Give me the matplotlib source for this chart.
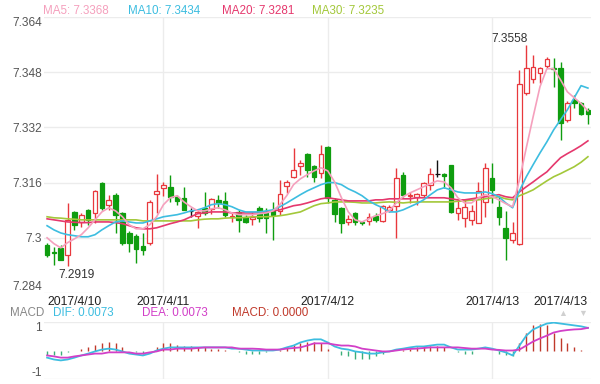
import numpy as np
import matplotlib.pyplot as plt

plt.rcParams['font.family'] = ['Liberation Sans', 'DejaVu Sans']

# x-axis labels (candle index where each label sits)
dates = ['2017/4/10', '2017/4/11', '2017/4/12', '2017/4/13', '2017/4/13']
date_pos = [0, 17, 41, 65, 79]

# hourly candles
opens = [7.2980, 7.2959, 7.2971, 7.2951, 7.3075, 7.3046, 7.3081, 7.3072, 7.3159, 7.3096,
         7.3125, 7.3072, 7.3014, 7.3006, 7.2977, 7.2986, 7.3128, 7.3145, 7.3148, 7.3119,
         7.3116, 7.3078, 7.3064, 7.3087, 7.3084, 7.3110, 7.3107, 7.3060, 7.3075, 7.3061,
         7.3055, 7.3087, 7.3072, 7.3078, 7.3078, 7.3151, 7.3177, 7.3209, 7.3244, 7.3209,
         7.3188, 7.3264, 7.3110, 7.3087, 7.3046, 7.3072, 7.3045, 7.3049, 7.3064, 7.3049,
         7.3081, 7.3093, 7.3183, 7.3122, 7.3119, 7.3125, 7.3154, 7.3186, 7.3186, 7.3212,
         7.3072, 7.3058, 7.3052, 7.3043, 7.3104, 7.3174, 7.3090, 7.3029, 7.2994, 7.2983,
         7.3420, 7.3461, 7.3478, 7.3499, 7.3493, 7.3493, 7.3342, 7.3400, 7.3391, 7.3371]
highs = [7.2986, 7.2974, 7.2980, 7.3101, 7.3078, 7.3072, 7.3084, 7.3139, 7.3162, 7.3125,
         7.3130, 7.3075, 7.3020, 7.3012, 7.3014, 7.3110, 7.3186, 7.3162, 7.3183, 7.3125,
         7.3148, 7.3087, 7.3081, 7.3133, 7.3116, 7.3125, 7.3133, 7.3075, 7.3081, 7.3067,
         7.3075, 7.3093, 7.3087, 7.3104, 7.3168, 7.3168, 7.3261, 7.3226, 7.3246, 7.3212,
         7.3270, 7.3267, 7.3116, 7.3090, 7.3067, 7.3075, 7.3046, 7.3072, 7.3072, 7.3096,
         7.3096, 7.3203, 7.3191, 7.3133, 7.3130, 7.3162, 7.3203, 7.3226, 7.3188, 7.3212,
         7.3110, 7.3110, 7.3096, 7.3162, 7.3217, 7.3217, 7.3119, 7.3078, 7.3046, 7.3487,
         7.3558, 7.3531, 7.3496, 7.3525, 7.3522, 7.3510, 7.3397, 7.3415, 7.3394, 7.3377]
lows = [7.2945, 7.2922, 7.2936, 7.2919, 7.3023, 7.3032, 7.3038, 7.3043, 7.3081, 7.3081,
        7.3014, 7.2980, 7.2959, 7.2928, 7.2951, 7.2980, 7.3072, 7.3122, 7.3104, 7.3096,
        7.3081, 7.3061, 7.3029, 7.3067, 7.3070, 7.3087, 7.3061, 7.3046, 7.3017, 7.3043,
        7.3038, 7.3046, 7.3014, 7.2994, 7.3067, 7.3130, 7.3174, 7.3183, 7.3177, 7.3162,
        7.3174, 7.3101, 7.3046, 7.3014, 7.3038, 7.3038, 7.3038, 7.3038, 7.3046, 7.3046,
        7.3075, 7.3000, 7.3119, 7.3101, 7.3096, 7.3119, 7.3139, 7.3177, 7.3145, 7.3072,
        7.3052, 7.3032, 7.3038, 7.3043, 7.3061, 7.3101, 7.3038, 7.2936, 7.2986, 7.2980,
        7.3415, 7.3449, 7.3449, 7.3493, 7.3438, 7.3284, 7.3336, 7.3377, 7.3356, 7.3330]
closes = [7.2951, 7.2957, 7.2936, 7.3052, 7.3038, 7.3067, 7.3052, 7.3136, 7.3087, 7.3110,
          7.3067, 7.2986, 7.2986, 7.2968, 7.2965, 7.3104, 7.3136, 7.3154, 7.3119, 7.3107,
          7.3081, 7.3078, 7.3075, 7.3072, 7.3113, 7.3101, 7.3067, 7.3063, 7.3052, 7.3046,
          7.3061, 7.3058, 7.3058, 7.3067, 7.3128, 7.3162, 7.3197, 7.3217, 7.3197, 7.3177,
          7.3244, 7.3116, 7.3070, 7.3043, 7.3055, 7.3046, 7.3042, 7.3061, 7.3052, 7.3093,
          7.3090, 7.3174, 7.3125, 7.3125, 7.3128, 7.3159, 7.3186, 7.3186, 7.3180, 7.3075,
          7.3087, 7.3090, 7.3078, 7.3136, 7.3203, 7.3139, 7.3061, 7.3000, 7.3014, 7.3446,
          7.3493, 7.3496, 7.3493, 7.3519, 7.3490, 7.3333, 7.3391, 7.3391, 7.3359, 7.3359]

ma5 = [7.3000, 7.2983, 7.2971, 7.2986, 7.2997, 7.3009, 7.3029, 7.3052, 7.3075, 7.3087,
       7.3078, 7.3061, 7.3038, 7.3026, 7.3026, 7.3038, 7.3061, 7.3096, 7.3116, 7.3122,
       7.3104, 7.3090, 7.3078, 7.3078, 7.3084, 7.3087, 7.3081, 7.3072, 7.3067, 7.3067,
       7.3067, 7.3070, 7.3072, 7.3078, 7.3096, 7.3122, 7.3154, 7.3171, 7.3183, 7.3194,
       7.3203, 7.3194, 7.3162, 7.3116, 7.3075, 7.3052, 7.3046, 7.3055, 7.3064, 7.3070,
       7.3078, 7.3101, 7.3119, 7.3130, 7.3139, 7.3148, 7.3157, 7.3165, 7.3162, 7.3145,
       7.3116, 7.3101, 7.3101, 7.3116, 7.3125, 7.3119, 7.3110, 7.3099, 7.3090, 7.3168,
       7.3261, 7.3351, 7.3438, 7.3490, 7.3490, 7.3458, 7.3423, 7.3406, 7.3389, 7.3368]
ma10 = [7.3035, 7.3023, 7.3014, 7.3009, 7.3006, 7.3003, 7.3003, 7.3009, 7.3023, 7.3035,
        7.3046, 7.3049, 7.3046, 7.3043, 7.3043, 7.3049, 7.3055, 7.3061, 7.3064, 7.3067,
        7.3072, 7.3078, 7.3081, 7.3087, 7.3096, 7.3099, 7.3096, 7.3090, 7.3081, 7.3075,
        7.3075, 7.3075, 7.3078, 7.3081, 7.3090, 7.3101, 7.3113, 7.3125, 7.3136, 7.3145,
        7.3154, 7.3160, 7.3160, 7.3154, 7.3142, 7.3133, 7.3122, 7.3107, 7.3096, 7.3087,
        7.3075, 7.3075, 7.3081, 7.3090, 7.3099, 7.3110, 7.3125, 7.3139, 7.3145, 7.3139,
        7.3133, 7.3130, 7.3130, 7.3130, 7.3133, 7.3128, 7.3119, 7.3101, 7.3087, 7.3136,
        7.3177, 7.3212, 7.3246, 7.3278, 7.3313, 7.3342, 7.3371, 7.3406, 7.3441, 7.3434]
ma20 = [7.3055, 7.3052, 7.3049, 7.3046, 7.3045, 7.3044, 7.3044, 7.3046, 7.3046, 7.3046,
        7.3044, 7.3041, 7.3035, 7.3029, 7.3026, 7.3026, 7.3029, 7.3035, 7.3041, 7.3046,
        7.3052, 7.3061, 7.3070, 7.3072, 7.3075, 7.3075, 7.3075, 7.3072, 7.3072, 7.3072,
        7.3072, 7.3072, 7.3075, 7.3078, 7.3081, 7.3087, 7.3093, 7.3096, 7.3101, 7.3107,
        7.3113, 7.3116, 7.3113, 7.3110, 7.3107, 7.3107, 7.3107, 7.3107, 7.3110, 7.3110,
        7.3113, 7.3113, 7.3113, 7.3113, 7.3116, 7.3116, 7.3116, 7.3116, 7.3116, 7.3113,
        7.3110, 7.3110, 7.3113, 7.3116, 7.3119, 7.3122, 7.3125, 7.3119, 7.3116, 7.3133,
        7.3148, 7.3162, 7.3177, 7.3191, 7.3212, 7.3232, 7.3244, 7.3255, 7.3267, 7.3281]
ma30 = [7.3061, 7.3058, 7.3057, 7.3055, 7.3054, 7.3052, 7.3052, 7.3052, 7.3052, 7.3052,
        7.3052, 7.3052, 7.3052, 7.3052, 7.3049, 7.3049, 7.3049, 7.3049, 7.3049, 7.3049,
        7.3049, 7.3049, 7.3052, 7.3054, 7.3055, 7.3055, 7.3057, 7.3058, 7.3058, 7.3059,
        7.3061, 7.3061, 7.3061, 7.3062, 7.3064, 7.3067, 7.3071, 7.3075, 7.3084, 7.3093,
        7.3099, 7.3101, 7.3104, 7.3104, 7.3104, 7.3103, 7.3101, 7.3101, 7.3101, 7.3103,
        7.3104, 7.3103, 7.3101, 7.3103, 7.3104, 7.3104, 7.3104, 7.3104, 7.3104, 7.3104,
        7.3106, 7.3107, 7.3109, 7.3110, 7.3113, 7.3116, 7.3119, 7.3113, 7.3110, 7.3122,
        7.3130, 7.3139, 7.3152, 7.3165, 7.3177, 7.3186, 7.3196, 7.3206, 7.3219, 7.3235]

dif = [-0.0023, -0.0029, -0.0032, -0.0029, -0.0023, -0.0016, -0.0010, -0.0003, 0.0003, 0.0006,
       0.0003, -0.0003, -0.0010, -0.0013, -0.0016, -0.0010, 0.0000, 0.0006, 0.0010, 0.0010,
       0.0010, 0.0010, 0.0010, 0.0010, 0.0010, 0.0010, 0.0010, 0.0006, 0.0006, 0.0003,
       0.0000, 0.0000, 0.0000, 0.0000, 0.0003, 0.0010, 0.0016, 0.0026, 0.0032, 0.0036,
       0.0036, 0.0026, 0.0013, 0.0006, 0.0003, -0.0003, -0.0006, -0.0010, -0.0010, -0.0006,
       -0.0003, 0.0003, 0.0006, 0.0010, 0.0013, 0.0013, 0.0016, 0.0019, 0.0019, 0.0010,
       0.0003, 0.0003, 0.0003, 0.0006, 0.0010, 0.0006, 0.0000, -0.0006, -0.0016, 0.0016,
       0.0048, 0.0068, 0.0078, 0.0087, 0.0090, 0.0087, 0.0084, 0.0081, 0.0078, 0.0073]
dea = [-0.0016, -0.0019, -0.0023, -0.0023, -0.0019, -0.0016, -0.0013, -0.0010, -0.0010, -0.0006,
       -0.0006, -0.0006, -0.0006, -0.0010, -0.0010, -0.0006, -0.0003, 0.0003, 0.0003, 0.0006,
       0.0006, 0.0006, 0.0008, 0.0010, 0.0010, 0.0010, 0.0010, 0.0010, 0.0006, 0.0006,
       0.0006, 0.0005, 0.0003, 0.0003, 0.0003, 0.0006, 0.0008, 0.0010, 0.0016, 0.0023,
       0.0023, 0.0023, 0.0019, 0.0016, 0.0016, 0.0013, 0.0006, 0.0003, 0.0000, -0.0003,
       -0.0003, 0.0000, 0.0003, 0.0005, 0.0006, 0.0008, 0.0010, 0.0010, 0.0010, 0.0010,
       0.0010, 0.0008, 0.0006, 0.0006, 0.0006, 0.0003, 0.0002, 0.0000, 0.0000, 0.0003,
       0.0016, 0.0029, 0.0039, 0.0048, 0.0058, 0.0063, 0.0066, 0.0068, 0.0069, 0.0073]
macd = [-0.0016, -0.0016, -0.0013, -0.0006, 0.0000, 0.0006, 0.0010, 0.0019, 0.0023, 0.0026,
        0.0023, 0.0010, 0.0000, -0.0006, -0.0010, -0.0003, 0.0010, 0.0023, 0.0023, 0.0019,
        0.0016, 0.0013, 0.0010, 0.0010, 0.0006, 0.0006, 0.0003, -0.0003, -0.0006, -0.0010,
        -0.0010, -0.0010, -0.0006, -0.0003, 0.0003, 0.0010, 0.0019, 0.0023, 0.0026, 0.0026,
        0.0023, 0.0006, -0.0003, -0.0013, -0.0019, -0.0026, -0.0029, -0.0026, -0.0019, -0.0010,
        -0.0003, 0.0000, 0.0003, 0.0006, 0.0010, 0.0013, 0.0013, 0.0013, 0.0010, 0.0000,
        -0.0006, -0.0010, -0.0010, -0.0003, 0.0000, -0.0003, -0.0010, -0.0016, -0.0019, 0.0023,
        0.0058, 0.0081, 0.0087, 0.0081, 0.0055, 0.0039, 0.0023, 0.0010, 0.0003, 0.0000]

price_ticks = [7.284, 7.3, 7.316, 7.332, 7.348, 7.364]
price_labels = ['7.284', '7.3', '7.316', '7.332', '7.348', '7.364']
macd_lim = 0.0092

RED = '#e8383d'
GREEN = '#0f9d0f'
C_MA5 = '#f5a0bd'
C_MA10 = '#3dbde0'
C_MA20 = '#e5386d'
C_MA30 = '#a3c83a'
C_DEA = '#d23fc8'
GRID = '#ececec'

o = np.array(opens)
h = np.array(highs)
l = np.array(lows)
c = np.array(closes)
x = np.arange(len(o))

fig = plt.figure(figsize=(6, 3.84), dpi=100)
ax = fig.add_axes([44 / 600, 1 - 293 / 384, 547 / 600, 276 / 384])
ax2 = fig.add_axes([44 / 600, 1 - 379 / 384, 547 / 600, 57 / 384])

# candles: red hollow = up, green filled = down, black = flat
colors = np.where(c > o, RED, np.where(c < o, GREEN, '#111111'))
faces = np.where(c > o, 'white', np.where(c < o, GREEN, '#111111'))
ax.vlines(x, l, h, colors=colors, linewidth=1, zorder=2)
ax.bar(x, np.abs(c - o), bottom=np.minimum(o, c), width=0.68,
       color=faces, edgecolor=colors, linewidth=0.9, zorder=3)

for vals, col in [(ma30, C_MA30), (ma20, C_MA20), (ma10, C_MA10), (ma5, C_MA5)]:
    ax.plot(x, vals, color=col, linewidth=1.2, zorder=4)

ax.set_xlim(-0.45, 79.45)
ax.set_ylim(price_ticks[0], price_ticks[-1])
ax.set_yticks(price_ticks, price_labels)
ax.yaxis.grid(True, color=GRID, linewidth=1)
for p in date_pos[1:-1]:
    ax.axvline(p, color=GRID, linewidth=1, zorder=0)
    ax2.axvline(p, color=GRID, linewidth=1, zorder=0)
ax.set_axisbelow(True)
ax.set_xticks(date_pos, dates)
ax.tick_params(length=0, labelsize=8.6, colors='#555555', pad=1.5)
ax.tick_params(axis='x', colors='#222222', pad=2, labelsize=8.8)
xl = ax.get_xticklabels()
xl[0].set_ha('left')
xl[-1].set_ha('right')
yl = ax.get_yticklabels()
yl[0].set_va('bottom')
yl[-1].set_va('top')
for s in ax.spines.values():
    s.set_visible(False)

# high / low marks
imax = int(np.argmax(h))
imin = int(np.argmin(l))
ax.annotate(f'{h[imax]:.4f}', xy=(imax, h[imax]), xytext=(1, 0.5), textcoords='offset points',
            ha='right', va='bottom', fontsize=8.6, color='#333333')
ax.annotate(f'{l[imin]:.4f}', xy=(imin, l[imin]), xytext=(-7, -2), textcoords='offset points',
            ha='left', va='top', fontsize=8.6, color='#333333')

# MACD panel
m = np.array(macd)
ax2.vlines(x, 0, m, colors=np.where(m >= 0, '#c0392b', '#3aaf7a'), linewidth=1, zorder=2)
ax2.plot(x, dif, color=C_MA10, linewidth=1.3, zorder=3)
ax2.plot(x, dea, color=C_DEA, linewidth=1.3, zorder=3)
ax2.set_xlim(-0.45, 79.45)
ax2.set_ylim(-macd_lim, macd_lim)
ax2.set_yticks([-macd_lim, macd_lim], ['-1', '1'])
ax2.yaxis.grid(True, color=GRID, linewidth=1)
ax2.set_xticks([])
ax2.tick_params(length=0, labelsize=8.6, colors='#555555', pad=1.5)
yl2 = ax2.get_yticklabels()
yl2[0].set_va('bottom')
yl2[1].set_va('top')
for s in ax2.spines.values():
    s.set_visible(False)

# legends
fs = 8.4
ty = 1 - 11 / 384
fig.text(43 / 600, ty, f'MA5: {ma5[-1]:.4f}', color=C_MA5, fontsize=fs, va='center')
fig.text(128 / 600, ty, f'MA10: {ma10[-1]:.4f}', color=C_MA10, fontsize=fs, va='center')
fig.text(222 / 600, ty, f'MA20: {ma20[-1]:.4f}', color=C_MA20, fontsize=fs, va='center')
fig.text(312 / 600, ty, f'MA30: {ma30[-1]:.4f}', color=C_MA30, fontsize=fs, va='center')

my = 1 - 313 / 384
fig.text(10 / 600, my, 'MACD', color='#888888', fontsize=fs, va='center')
fig.text(53 / 600, my, f'DIF: {dif[-1]:.4f}', color=C_MA10, fontsize=fs, va='center')
fig.text(142 / 600, my, f'DEA: {dea[-1]:.4f}', color=C_DEA, fontsize=fs, va='center')
fig.text(232 / 600, my, f'MACD: {macd[-1]:.4f}', color='#c0392b', fontsize=fs, va='center')
fig.text(563 / 600, my, '▲', color='#d0d0d0', fontsize=6.5, va='center', ha='center')
fig.text(583 / 600, my, '▼', color='#d0d0d0', fontsize=6.5, va='center', ha='center')

fig.savefig('out.png', dpi=100, facecolor='white')
